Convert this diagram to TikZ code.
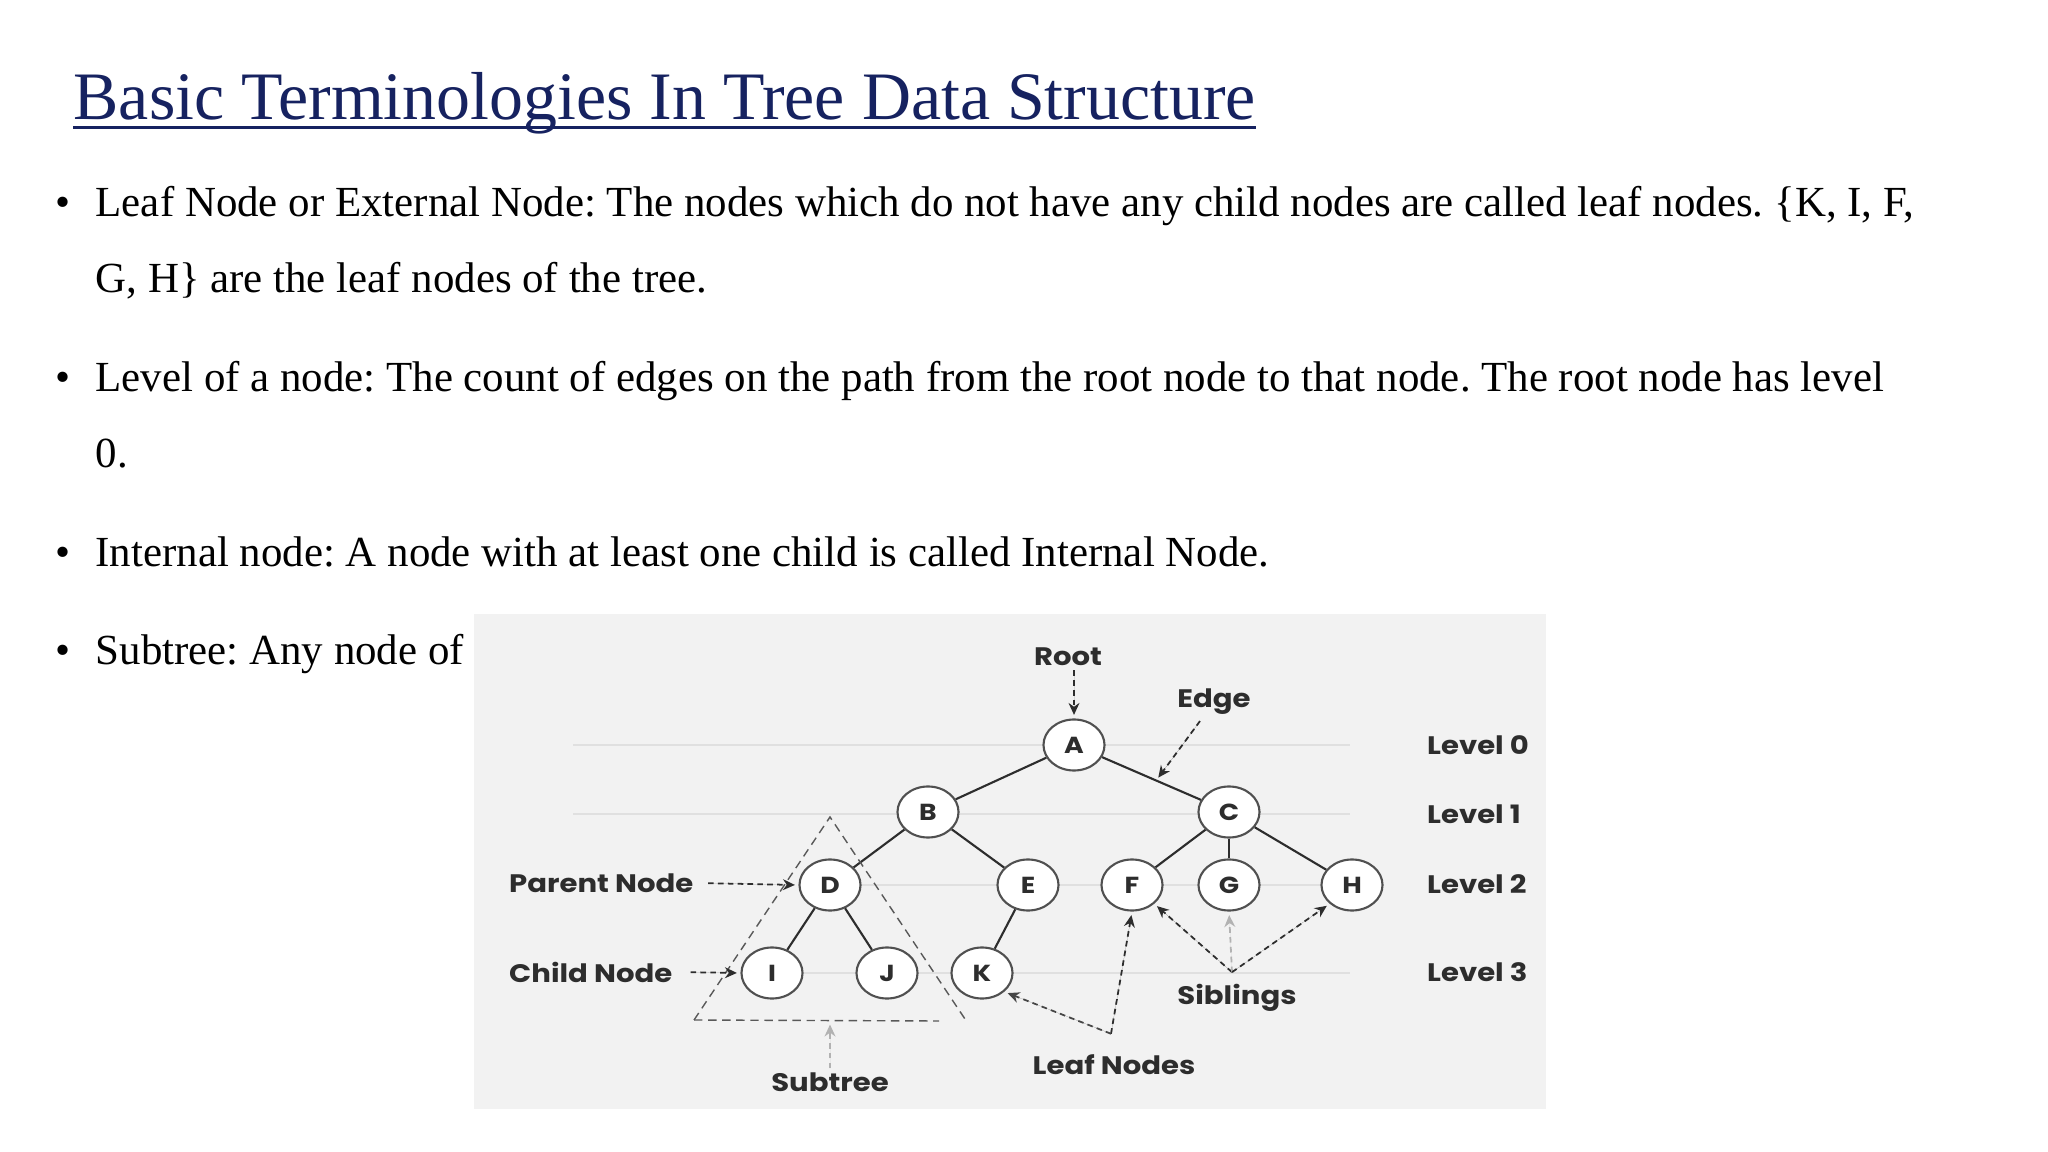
\documentclass[tikz,border=0pt]{standalone}
\usepackage{fontspec}
\setmainfont{Liberation Serif}
\newfontfamily\popfont{Poppins}[FakeStretch=1.15]
\usetikzlibrary{shapes.geometric,arrows.meta,positioning,calc}
\definecolor{titleblue}{RGB}{22,34,96}
\definecolor{panelgray}{RGB}{242,242,242}
\definecolor{levelgray}{RGB}{224,224,224}
\definecolor{inkgray}{RGB}{45,45,45}
\definecolor{ringgray}{RGB}{80,80,80}
\tikzset{
  bodytext/.style={anchor=base west, inner sep=0pt, font=\fontsize{12.2}{14}\selectfont\frenchspacing},
  treenode/.style={ellipse, draw=ringgray, fill=white, semithick, minimum width=0.61cm,
                   minimum height=0.51cm, inner sep=0pt, text=inkgray,
                   font=\popfont\bfseries\fontsize{6.6}{7}\selectfont},
  notetext/.style={text=inkgray, inner sep=1pt, font=\popfont\bfseries\fontsize{7.2}{8}\selectfont},
  branch/.style={draw=inkgray, semithick},
  pointer/.style={-{Stealth[length=3.4pt, width=3.1pt]}, draw=inkgray, fill=inkgray, line width=0.5pt,
                  dash pattern=on 1.6pt off 1.2pt, shorten >=1pt},
  faintpointer/.style={pointer, draw=gray!60, fill=gray!60},
  greypointer/.style={pointer, draw=gray!55!black, fill=gray!55!black},
  hull/.style={draw=gray!70!black, line width=0.4pt, dash pattern=on 2.4pt off 1.6pt},
  levelline/.style={draw=levelgray, line width=0.4pt},
}
\begin{document}
\begin{tikzpicture}[x=0.01cm, y=-0.01cm]
\useasboundingbox (0,0) rectangle (2048,1152);
\fill[white] (0,0) rectangle (2048,1152);

% -------------------- Title --------------------
\node[anchor=base west, inner sep=0pt, text=titleblue, font=\fontsize{19.3}{22}\selectfont]
    (title) at (73,120) {Basic Terminologies In Tree Data Structure};
\draw[titleblue, line width=0.85pt] ($(title.base west)+(0,8)$) -- ($(title.base east)+(0,8)$);

% -------------------- Bullets --------------------
\foreach \yy/\nm in {217/b1, 392/b2, 567/b3, 665/b4}
  \node[bodytext] (\nm) at (55,\yy) {\textbullet};
\node[bodytext] (leafline) at (95,217)
    {Leaf Node or External Node: The nodes which do not have any child nodes are called leaf nodes. \{K, I, F,};
\node[bodytext] (leafline2) at (95,293) {G, H\} are the leaf nodes of the tree.};
\node[bodytext] (levelline1) at (95,392)
    {Level of a node: The count of edges on the path from the root node to that node. The root node has level};
\node[bodytext] (levelline2) at (95,468) {0.};
\node[bodytext] (internal) at (95,567) {Internal node: A node with at least one child is called Internal Node.};
\node[bodytext] (subline) at (95,665) {Subtree: Any node of};

% -------------------- Picture panel --------------------
\fill[panelgray] (474,614) rectangle (1546,1109);
\draw[levelline] (573,745) -- (1350,745);
\draw[levelline] (573,814) -- (1350,814);
\draw[levelline] (830,885) -- (1350,885);
\draw[levelline] (772,973) -- (1350,973);

% -------------------- Tree --------------------
\node[treenode] (A) at (1074,745) {A};
\node[treenode] (B) at (928,812) {B};
\node[treenode] (C) at (1229,812) {C};
\node[treenode] (D) at (830,885) {D};
\node[treenode] (E) at (1028,885) {E};
\node[treenode] (F) at (1132,885) {F};
\node[treenode] (G) at (1229,885) {G};
\node[treenode] (H) at (1352,885) {H};
\node[treenode] (I) at (772,973) {I};
\node[treenode] (J) at (887,973) {J};
\node[treenode] (K) at (982,973) {K};
\foreach \p/\c in {A/B, A/C, B/D, B/E, D/I, D/J, E/K, C/F, C/G, C/H}
  \draw[branch] (\p) -- (\c);

% -------------------- Labels --------------------
\node[notetext] (root) at (1068,657) {Root};
\node[notetext] (edgelbl) at (1214,702) {Edge};
\foreach \yy/\nm in {745/0, 814/1, 884/2, 972/3}
  \node[notetext, anchor=west] (lvl\nm) at (1423,\yy) {Level \nm};
\node[notetext, anchor=west] (parent) at (505,883) {Parent Node};
\node[notetext, anchor=west] (child) at (505,972) {Child Node};
\node[notetext] (subtree) at (830,1082) {Subtree};
\node[notetext] (leaf) at (1114,1065) {Leaf Nodes};
\node[notetext] (sib) at (1237,998) {Siblings};

% subtree outline
\coordinate (apex) at (830,817);
\coordinate (baseL) at (694,1020);
\coordinate (baseR) at (967,1022);
\coordinate (baseM) at (830,1021);
\coordinate (baseE) at (939,1021);
\draw[hull] (baseL) -- (apex) -- (baseR);
\draw[hull] (baseL) -- (baseE);

% -------------------- Pointers --------------------
\coordinate (acmid) at ($(A)!0.53!(C)$);
\coordinate (leafhub) at ($(leaf.north)+(-3,-17)$);
\coordinate (sibhub) at ($(sib.north)+(-5,-8)$);
\draw[pointer] (root.south -| A) -- (A.north);
\draw[pointer] ($(edgelbl.south)+(-14,2)$) -- (acmid);
\draw[pointer, shorten <=3pt] (parent.east) -- (D.west);
\draw[pointer, shorten <=4pt] (child.east) -- (I.west);
\draw[faintpointer] (subtree.north) -- (baseM);
\draw[pointer] (leafhub) -- (F.south);
\draw[greypointer] (leafhub) -- (K.south east);
\draw[pointer] (sibhub) -- (F.south east);
\draw[faintpointer] (sibhub) -- (G.south);
\draw[pointer] (sibhub) -- (H.south west);

\end{tikzpicture}
\end{document}
